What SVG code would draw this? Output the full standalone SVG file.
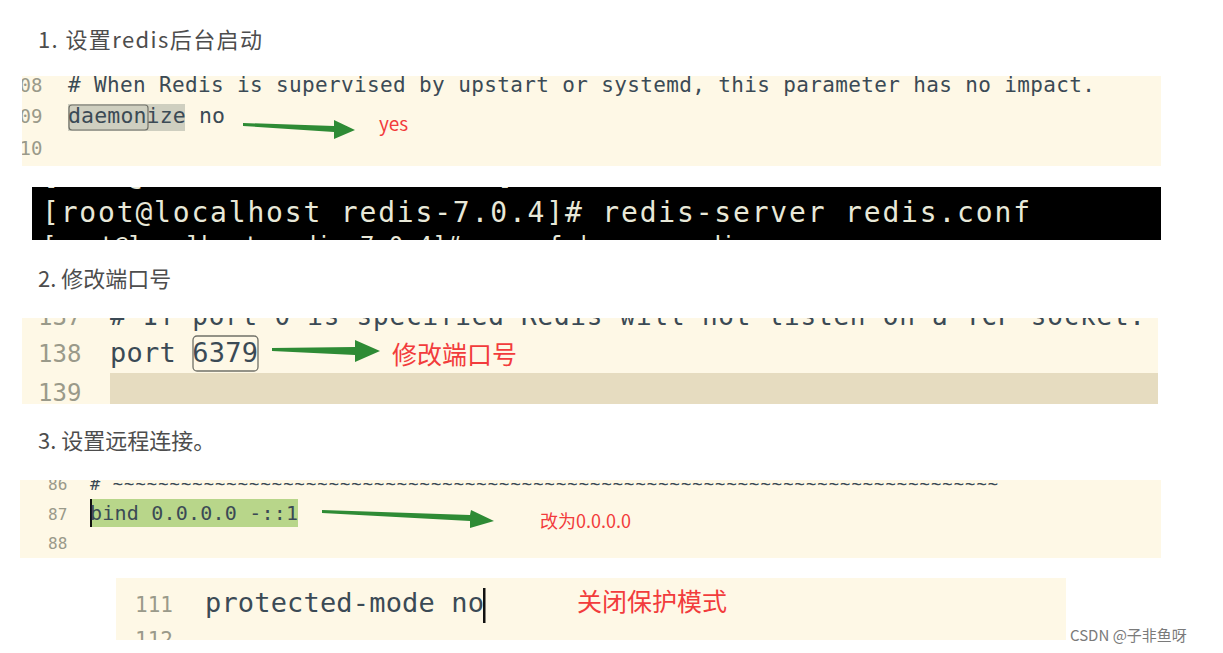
<svg xmlns="http://www.w3.org/2000/svg" width="1223" height="653" viewBox="0 0 1223 653">
<style>
.h{font-family:"Noto Sans CJK SC","Liberation Sans",sans-serif;font-size:22px;fill:#4d4d4d}
.m{font-family:"DejaVu Sans Mono","Liberation Mono",monospace;fill:#3b4a55}
.ln{font-family:"DejaVu Sans Mono","Liberation Mono",monospace;fill:#9a9a8a}
.r{font-family:"Noto Sans CJK SC","Liberation Sans",sans-serif;fill:#f23c3c}
.ar{fill:#2e8b35}
</style>
<defs>
<clipPath id="c1"><rect x="22" y="76" width="1139" height="90"/></clipPath>
<clipPath id="c2"><rect x="32" y="187" width="1129" height="53"/></clipPath>
<clipPath id="c3"><rect x="22" y="318" width="1136" height="86"/></clipPath>
<clipPath id="c4"><rect x="20" y="480" width="1141" height="78"/></clipPath>
<clipPath id="c5"><rect x="116" y="578" width="950" height="62"/></clipPath>
</defs>
<rect width="1223" height="653" fill="#fff"/>
<text class="h" x="38" y="48" textLength="224">1. 设置redis后台启动</text>
<g clip-path="url(#c1)">
<rect x="22" y="76" width="1139" height="90" fill="#fef8e6"/>
<rect x="68" y="104" width="117" height="27" fill="#cfcfc0"/>
<rect x="69" y="105" width="79" height="25" rx="3" fill="none" stroke="#707068" stroke-width="1.2"/>
<text class="ln" x="8" y="92" font-size="19">308</text>
<text class="ln" x="8" y="123" font-size="19">309</text>
<text class="ln" x="8" y="155" font-size="19">310</text>
<text class="m" x="68" y="92" font-size="21" textLength="1027"># When Redis is supervised by upstart or systemd, this parameter has no impact.</text>
<text class="m" x="68" y="123" font-size="21.5" textLength="157">daemonize no</text>
</g>
<polygon class="ar" points="243,123 334,126 334,120 355,130 334,139 334,132 243,126"/>
<text class="r" x="379" y="131" font-size="19">yes</text>
<g clip-path="url(#c2)">
<rect x="32" y="187" width="1129" height="53" fill="#000"/>
<text x="42" y="185" font-family="DejaVu Sans Mono,monospace" font-size="28" fill="#e8e8d8">[root@localhost redis-7.0.4]#</text>
<text x="42" y="222" font-family="DejaVu Sans Mono,monospace" font-size="28" fill="#e8e8d8" textLength="988">[root@localhost redis-7.0.4]# redis-server redis.conf</text>
<text x="42" y="254" font-family="DejaVu Sans Mono,monospace" font-size="24" fill="#e8e8d8">[root@localhost redis-7.0.4]# ps -ef | grep redis</text>
</g>
<text class="h" x="38" y="287">2. 修改端口号</text>
<g clip-path="url(#c3)">
<rect x="22" y="318" width="1136" height="86" fill="#fef8e6"/>
<rect x="110" y="373" width="1048" height="31" fill="#e6dcc0"/>
<text class="ln" x="38" y="325" font-size="24">137</text>
<text class="m" x="110" y="325" font-size="26" textLength="1035"># If port 0 is specified Redis will not listen on a TCP socket.</text>
<text class="ln" x="38" y="362" font-size="24">138</text>
<text class="m" x="110" y="362" font-size="27" textLength="148">port 6379</text>
<rect x="193" y="336" width="65" height="35" rx="4" fill="none" stroke="#707068" stroke-width="1.3"/>
<text class="ln" x="38" y="401" font-size="24">139</text>
</g>
<polygon class="ar" points="272,348 355,347 355,340 380,351 355,362 355,355 272,351"/>
<text class="r" x="392" y="364" font-size="25">修改端口号</text>
<text class="h" x="38" y="449">3. 设置远程连接。</text>
<g clip-path="url(#c4)">
<rect x="20" y="480" width="1141" height="78" fill="#fef8e6"/>
<rect x="90" y="499" width="208" height="28" fill="#b8d68a"/>
<rect x="90" y="499" width="2" height="28" fill="#111"/>
<text class="ln" x="48" y="490" font-size="16">86</text>
<text class="m" x="90" y="490" font-size="17" textLength="908"># ~~~~~~~~~~~~~~~~~~~~~~~~~~~~~~~~~~~~~~~~~~~~~~~~~~~~~~~~~~~~~~~~~~~~~~~~~~~~~~</text>
<text class="ln" x="48" y="520" font-size="16">87</text>
<text class="m" x="90" y="520" font-size="20" textLength="208">bind 0.0.0.0 -::1</text>
<text class="ln" x="48" y="549" font-size="16">88</text>
</g>
<polygon class="ar" points="322,510 470,515 471,510 494,521 470,528 470,521 322,513"/>
<text class="r" x="540" y="528" font-size="18">改为0.0.0.0</text>
<g clip-path="url(#c5)">
<rect x="116" y="578" width="950" height="62" fill="#fef8e6"/>
<text class="ln" x="135" y="612" font-size="21" fill="#8a8a7a">111</text>
<text class="m" x="205" y="612" font-size="27" fill="#2f3f4a" textLength="279">protected-mode no</text>
<rect x="483" y="588" width="2.5" height="35" fill="#111"/>
<text class="ln" x="135" y="647" font-size="21">112</text>
</g>
<text class="r" x="577" y="611" font-size="25">关闭保护模式</text>
<text x="1070" y="641" font-family="Noto Sans CJK SC,Liberation Sans,sans-serif" font-size="15" fill="#7a7a7a">CSDN @子非鱼呀</text>
</svg>
